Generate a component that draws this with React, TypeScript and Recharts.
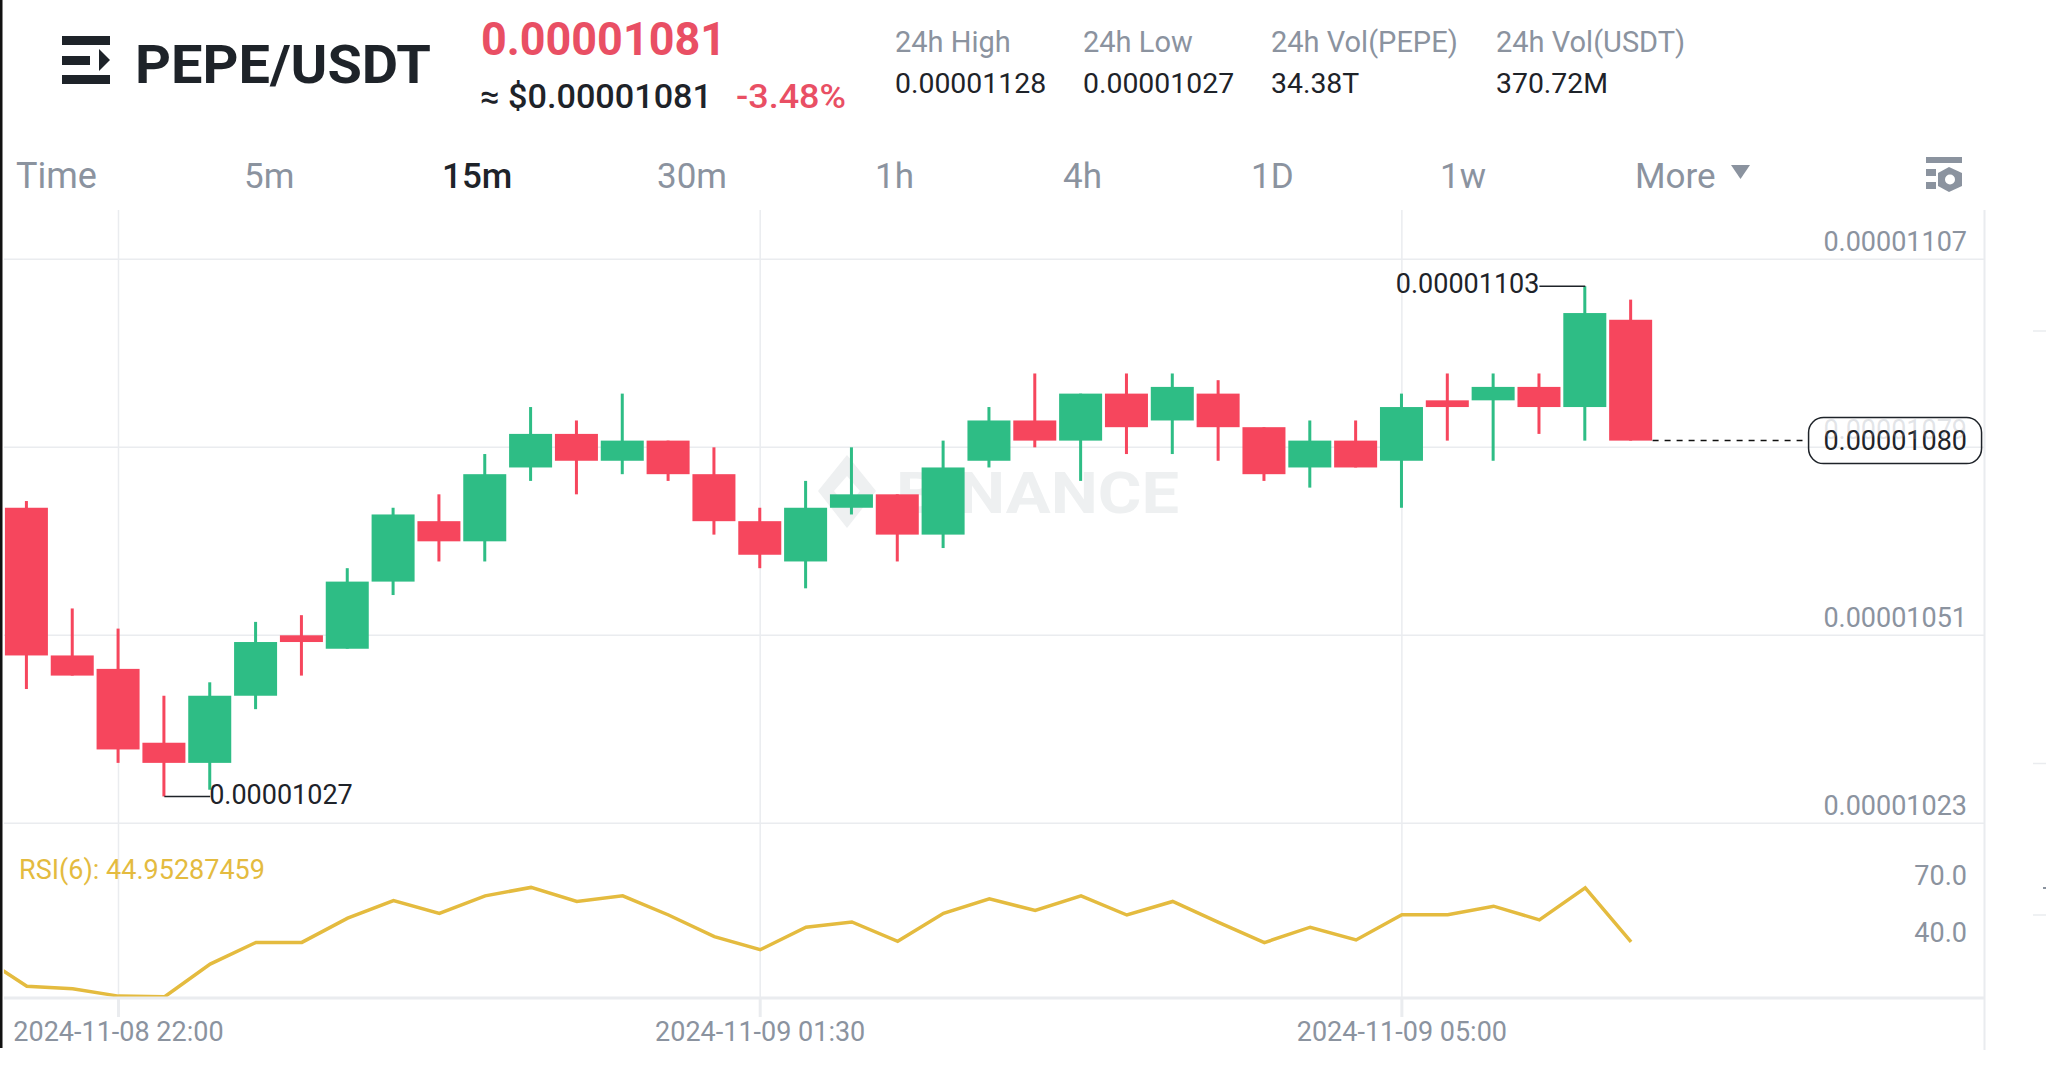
import { FC } from 'react';
import {
  ComposedChart,
  Bar,
  Line,
  XAxis,
  YAxis,
  CartesianGrid,
  ReferenceLine,
  ReferenceDot,
} from 'recharts';

// prices are in units of 0.00000001 USDT
const opens = [1070, 1048, 1046, 1035, 1032, 1042, 1051, 1049, 1059, 1068, 1065, 1076, 1081, 1077, 1080, 1075, 1068, 1062, 1070, 1072, 1066, 1077, 1083, 1080, 1087, 1083, 1087, 1082, 1076, 1080, 1077, 1086, 1086, 1088, 1085, 1098];
const closes = [1048, 1045, 1034, 1032, 1042, 1050, 1050, 1059, 1069, 1065, 1075, 1081, 1077, 1080, 1075, 1068, 1063, 1070, 1072, 1066, 1076, 1083, 1080, 1087, 1082, 1088, 1082, 1075, 1080, 1076, 1085, 1085, 1088, 1085, 1099, 1080];
const highs = [1071, 1055, 1052, 1042, 1044, 1053, 1054, 1061, 1070, 1072, 1078, 1085, 1083, 1087, 1080, 1079, 1070, 1074, 1079, 1072, 1080, 1085, 1090, 1087, 1090, 1090, 1089, 1082, 1083, 1083, 1087, 1090, 1090, 1090, 1103, 1101];
const lows = [1043, 1045, 1032, 1027, 1028, 1040, 1045, 1049, 1057, 1062, 1062, 1074, 1072, 1075, 1074, 1066, 1061, 1058, 1069, 1062, 1064, 1076, 1079, 1074, 1078, 1078, 1077, 1074, 1073, 1076, 1070, 1080, 1077, 1081, 1080, 1080];

// starts one candle before the first visible one, the line comes in from off screen
const rsiValues = [37.3, 21.3, 19.9, 16.0, 15.6, 33.05, 44.6, 44.6, 57.5, 66.9, 60.1, 69.4, 73.9, 66.4, 69.4, 59.2, 47.7, 40.7, 52.7, 55.5, 45.2, 60.1, 67.8, 61.6, 69.4, 59.2, 66.4, 55.3, 44.5, 52.7, 45.9, 59.4, 59.4, 63.9, 56.6, 73.7, 44.95];

const timeTicks = [2, 16, 30];
const timeLabels = ['2024-11-08 22:00', '2024-11-09 01:30', '2024-11-09 05:00'];
const priceTicks = [1023, 1051, 1079, 1107];
const rsiTicks = [40, 70];
const fadedTick = 1079; // sits behind the last price pill

const intervals = [
  { label: 'Time', x: 16 },
  { label: '5m', x: 244 },
  { label: '15m', x: 442 },
  { label: '30m', x: 657 },
  { label: '1h', x: 875 },
  { label: '4h', x: 1063 },
  { label: '1D', x: 1251 },
  { label: '1w', x: 1440 },
  { label: 'More', x: 1635 },
];
const activeInterval = '15m';

const stats = [
  { label: '24h High', value: '0.00001128', x: 895 },
  { label: '24h Low', value: '0.00001027', x: 1083 },
  { label: '24h Vol(PEPE)', value: '34.38T', x: 1271 },
  { label: '24h Vol(USDT)', value: '370.72M', x: 1496 },
];

const candles = opens.map((open, i) => ({
  idx: i,
  open,
  close: closes[i],
  high: highs[i],
  low: lows[i],
}));
const rsiData = rsiValues.map((rsi, i) => ({ idx: i - 1, rsi }));

const UP = '#2EBD85';
const DOWN = '#F6465D';
const DOWN_TEXT = '#E94F64';
const GRID = '#EAECEF';
const GREY = '#8B939F';
const DARK = '#1E2329';
const YELLOW = '#E4BB3F';
const FONT = 'Roboto, sans-serif';
const X_DOMAIN: [number, number] = [-0.5, 42.7];

const fmtPrice = (v: number) => (v / 1e8).toFixed(8);

const Candle: FC<any> = ({ x, y, width, height, payload }) => {
  const { open, close, high, low } = payload;
  const top = Math.min(y, y + height);
  const perUnit = Math.abs(height) / (high - low);
  const color = close >= open ? UP : DOWN;
  const bodyTop = top + (high - Math.max(open, close)) * perUnit;
  const bodyH = Math.abs(open - close) * perUnit;
  return (
    <g>
      <rect x={x + width / 2 - 1.5} y={top} width={3} height={Math.abs(height)} fill={color} />
      <rect x={x} y={bodyTop} width={width} height={bodyH} fill={color} />
    </g>
  );
};

const AxisTick: FC<any> = ({ y, payload, format, lift }) => (
  <text
    x={1967}
    y={y - lift}
    textAnchor="end"
    dominantBaseline="central"
    fontFamily={FONT}
    fontSize={27}
    fill={GREY}
    fillOpacity={payload.value === fadedTick ? 0.25 : 1}
  >
    {format(payload.value)}
  </text>
);

const LastPrice: FC<any> = ({ cx, cy }) => (
  <g>
    <rect x={cx - 86.5} y={cy - 23} width={173} height={46} rx={15} fill="none" stroke={DARK} strokeWidth={1.5} />
    <text x={1967} y={cy} textAnchor="end" dominantBaseline="central" fontFamily={FONT} fontSize={27} fill={DARK}>
      {fmtPrice(1080)}
    </text>
  </g>
);

const Header: FC = () => (
  <svg width={2046} height={1080} style={{ position: 'absolute', left: 0, top: 0 }} fontFamily={FONT}>
    <rect x={0} y={0} width={2.5} height={1048} fill="#111" />

    <rect x={62} y={36} width={48} height={9} fill={DARK} />
    <rect x={62} y={56} width={28} height={9} fill={DARK} />
    <path d="M99 49 L110 60 L99 71 Z" fill={DARK} />
    <rect x={62} y={75} width={48} height={9} fill={DARK} />

    <text x={135} y={83} fontSize={53} fontWeight={700} fill={DARK} textLength={296} lengthAdjust="spacingAndGlyphs">PEPE/USDT</text>
    <text x={481} y={55} fontSize={46} fontWeight={700} fill={DOWN_TEXT} textLength={245} lengthAdjust="spacingAndGlyphs">0.00001081</text>
    <text x={480} y={108} fontSize={33} fontWeight={500} fill={DARK} textLength={232} lengthAdjust="spacingAndGlyphs">≈ $0.00001081</text>
    <text x={736} y={108} fontSize={33} fontWeight={500} fill={DOWN_TEXT} textLength={110} lengthAdjust="spacingAndGlyphs">-3.48%</text>

    {stats.map((s) => (
      <g key={s.label}>
        <text x={s.x} y={52} fontSize={29} fill={GREY}>{s.label}</text>
        <text x={s.x} y={93} fontSize={28.4} fill={DARK}>{s.value}</text>
      </g>
    ))}

    {intervals.map((t) => (
      <text
        key={t.label}
        x={t.x}
        y={188}
        fontSize={t.label === 'Time' ? 36 : 35}
        fontWeight={t.label === activeInterval ? 500 : 400}
        fill={t.label === activeInterval ? DARK : GREY}
      >
        {t.label}
      </text>
    ))}
    <path d="M1731 165 L1750 165 L1740.5 179 Z" fill={GREY} />

    <rect x={1926} y={157} width={36} height={6} fill={GREY} />
    <rect x={1926} y={169} width={10} height={7} fill={GREY} />
    <rect x={1926} y={182} width={10} height={7} fill={GREY} />
    <path d="M1949 167 L1962 173 L1962 186 L1949 192 L1938 186 L1938 173 Z" fill={GREY} />
    <circle cx={1950} cy={179.5} r={5} fill="#fff" />

    <line x1={1984.5} y1={210} x2={1984.5} y2={1050} stroke={GRID} strokeWidth={2} />
    <line x1={2033} y1={331} x2={2046} y2={331} stroke={GRID} strokeWidth={1.5} />
    <line x1={2033} y1={763.5} x2={2046} y2={763.5} stroke={GRID} strokeWidth={1.5} />
    <line x1={2033} y1={915} x2={2046} y2={915} stroke={GRID} strokeWidth={1.5} />
    <line x1={2043} y1={888} x2={2046} y2={888} stroke={GREY} strokeWidth={2} />
  </svg>
);

const Watermark: FC = () => (
  <svg width={2046} height={1080} style={{ position: 'absolute', left: 0, top: 0 }}>
    <path d="M847 455 L876 491 L847 528 L818 491 Z M847 476 L834 491 L847 507 L860 491 Z" fill="#EEF0F1" fillRule="evenodd" />
    <text x={896} y={513} fontFamily={FONT} fontSize={58} fontWeight={700} fill="#EEF0F1" textLength={283} lengthAdjust="spacingAndGlyphs">BINANCE</text>
  </svg>
);

export default function App() {
  return (
    <div style={{ position: 'absolute', left: 0, top: 0, width: 2046, height: 1080, background: '#fff', overflow: 'hidden' }}>
      <Watermark />
      <Header />

      <div style={{ position: 'absolute', left: 0, top: 210 }}>
        <ComposedChart width={1986} height={615.3} data={candles} margin={{ top: 0, right: 1, bottom: 2, left: 3.9 }}>
          <CartesianGrid stroke={GRID} strokeWidth={1.5} horizontalValues={priceTicks} verticalValues={timeTicks} />
          <XAxis dataKey="idx" type="number" domain={X_DOMAIN} hide allowDataOverflow />
          <YAxis
            orientation="right"
            width={1}
            domain={[1023, 1114.35]}
            ticks={priceTicks}
            interval={0}
            axisLine={false}
            tickLine={false}
            tick={<AxisTick format={fmtPrice} lift={17.5} />}
          />
          <Bar dataKey={(d: any) => [d.low, d.high]} barSize={43} shape={<Candle />} isAnimationActive={false} />
          <ReferenceLine segment={[{ x: 33, y: 1103 }, { x: 34, y: 1103 }]} stroke={DARK} strokeWidth={1.5} />
          <ReferenceLine segment={[{ x: 3, y: 1027 }, { x: 4, y: 1027 }]} stroke={DARK} strokeWidth={1.5} />
          <ReferenceDot x={33} y={1103} r={0} stroke="none" label={{ value: fmtPrice(1103), position: 'left', offset: 0, dy: -3, fontSize: 27, fontFamily: FONT, fill: DARK }} />
          <ReferenceDot x={4} y={1027} r={0} stroke="none" label={{ value: fmtPrice(1027), position: 'right', offset: 0, dx: -1, dy: -2, fontSize: 27, fontFamily: FONT, fill: DARK }} />
          <ReferenceLine segment={[{ x: 35.47, y: 1080 }, { x: 38.74, y: 1080 }]} stroke="#111" strokeWidth={1.5} strokeDasharray="6 6" />
          <ReferenceDot x={40.76} y={1080} shape={<LastPrice />} />
        </ComposedChart>
      </div>

      <div style={{ position: 'absolute', left: 0, top: 823 }}>
        <ComposedChart width={1986} height={227} data={rsiData} margin={{ top: 0, right: 1, bottom: 0, left: 3.9 }}>
          <CartesianGrid stroke={GRID} strokeWidth={1.5} horizontal={false} verticalValues={timeTicks} />
          <XAxis
            dataKey="idx"
            type="number"
            domain={X_DOMAIN}
            allowDataOverflow
            ticks={timeTicks}
            interval={0}
            height={52}
            stroke={GRID}
            strokeWidth={3}
            tickSize={19}
            tickMargin={5}
            tick={{ fontFamily: FONT, fontSize: 27, fill: GREY }}
            tickFormatter={(v: number) => timeLabels[timeTicks.indexOf(v)]}
          />
          <YAxis
            orientation="right"
            width={1}
            domain={[15, 108.2]}
            ticks={rsiTicks}
            interval={0}
            axisLine={false}
            tickLine={false}
            tick={<AxisTick format={(v: number) => v.toFixed(1)} lift={18.5} />}
          />
          <Line dataKey="rsi" stroke={YELLOW} strokeWidth={3.5} dot={false} isAnimationActive={false} />
        </ComposedChart>
        <div style={{ position: 'absolute', left: 19, top: 31, fontFamily: FONT, fontSize: 27, lineHeight: '32px', color: YELLOW, whiteSpace: 'nowrap' }}>
          RSI(6): 44.95287459
        </div>
      </div>
    </div>
  );
}
